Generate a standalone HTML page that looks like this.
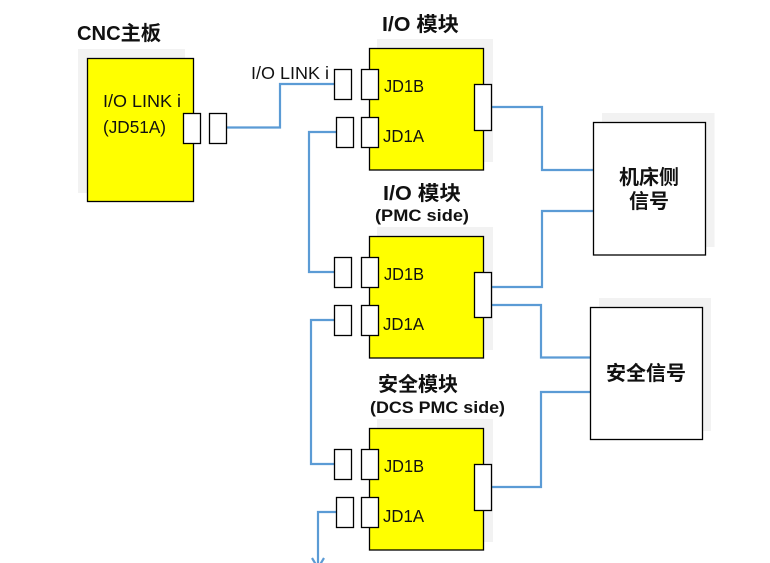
<!DOCTYPE html>
<html><head><meta charset="utf-8"><style>
html,body{margin:0;padding:0;background:#fff;width:770px;height:563px;overflow:hidden}
svg{display:block}
text{font-family:"Liberation Sans","Noto Sans CJK SC",sans-serif;fill:#111}
.b{font-weight:bold;font-size:20px}
.s{font-weight:bold;font-size:17px}
.l{font-size:17.5px}
.y{fill:#ff0;stroke:#000;stroke-width:1.3}
.w{fill:#fff;stroke:#000;stroke-width:1.3}
.g{fill:#f2f2f2}
.c{fill:none;stroke:#5b9bd5;stroke-width:2.2}
</style></head><body>
<svg width="770" height="563" viewBox="0 0 770 563" xmlns="http://www.w3.org/2000/svg">
<rect class="g" x="78" y="49" width="107" height="144"/>
<rect class="g" x="377" y="39" width="116" height="123"/>
<rect class="g" x="377" y="227" width="116" height="123"/>
<rect class="g" x="377" y="419" width="116" height="123"/>
<rect class="g" x="602" y="113" width="112.500" height="134"/>
<rect class="g" x="599" y="298" width="112" height="133"/>

<path class="c" d="M226.500 127.500H280V84H334"/>
<path class="c" d="M336 132H309V272H334"/>
<path class="c" d="M491 107H542V170H593"/>
<path class="c" d="M491 287H542V211H593"/>
<path class="c" d="M491 305H541V357.500H590"/>
<path class="c" d="M491 487H541V392H590"/>
<path class="c" d="M334 320H311V464H334"/>
<path class="c" d="M336 512H318V563"/>
<path class="c" d="M312 558L318 568L324 558"/>

<rect class="y" x="87.500" y="58.500" width="106" height="143"/>
<rect class="y" x="369.500" y="48.500" width="114" height="121.500"/>
<rect class="y" x="369.500" y="236.500" width="114" height="121.500"/>
<rect class="y" x="369.500" y="428.500" width="114" height="121.500"/>
<rect class="w" x="593.500" y="122.500" width="112" height="132.500"/>
<rect class="w" x="590.500" y="307.500" width="112" height="132"/>

<rect class="w" x="183.500" y="113.500" width="17" height="30"/>
<rect class="w" x="209.500" y="113.500" width="17" height="30"/>

<rect class="w" x="334.500" y="69.500" width="17" height="30"/>
<rect class="w" x="361.500" y="69.500" width="17" height="30"/>
<rect class="w" x="336.500" y="117.500" width="17" height="30"/>
<rect class="w" x="361.500" y="117.500" width="17" height="30"/>
<rect class="w" x="474.500" y="84.500" width="17" height="46"/>

<rect class="w" x="334.500" y="257.500" width="17" height="30"/>
<rect class="w" x="361.500" y="257.500" width="17" height="30"/>
<rect class="w" x="334.500" y="305.500" width="17" height="30"/>
<rect class="w" x="361.500" y="305.500" width="17" height="30"/>
<rect class="w" x="474.500" y="272.500" width="17" height="45"/>

<rect class="w" x="334.500" y="449.500" width="17" height="30"/>
<rect class="w" x="361.500" y="449.500" width="17" height="30"/>
<rect class="w" x="336.500" y="497.500" width="17" height="30"/>
<rect class="w" x="361.500" y="497.500" width="17" height="30"/>
<rect class="w" x="474.500" y="464.500" width="17" height="46"/>

<text class="b" x="77" y="40" textLength="84" lengthAdjust="spacingAndGlyphs">CNC主板</text>
<text class="b" x="382" y="31" textLength="77" lengthAdjust="spacingAndGlyphs">I/O 模块</text>
<text class="b" x="383" y="200" textLength="78" lengthAdjust="spacingAndGlyphs">I/O 模块</text>
<text class="s" x="375" y="221" textLength="94" lengthAdjust="spacingAndGlyphs">(PMC side)</text>
<text class="b" x="378" y="391" textLength="80" lengthAdjust="spacingAndGlyphs">安全模块</text>
<text class="s" x="370" y="413" textLength="135" lengthAdjust="spacingAndGlyphs">(DCS PMC side)</text>

<text class="l" x="103" y="107" textLength="78" lengthAdjust="spacingAndGlyphs">I/O LINK i</text>
<text class="l" x="103" y="133" textLength="63" lengthAdjust="spacingAndGlyphs">(JD51A)</text>
<text class="l" x="251" y="79" textLength="78" lengthAdjust="spacingAndGlyphs">I/O LINK i</text>

<text class="l" x="384" y="92" textLength="40" lengthAdjust="spacingAndGlyphs">JD1B</text>
<text class="l" x="383" y="142" textLength="41" lengthAdjust="spacingAndGlyphs">JD1A</text>
<text class="l" x="384" y="280" textLength="40" lengthAdjust="spacingAndGlyphs">JD1B</text>
<text class="l" x="383" y="330" textLength="41" lengthAdjust="spacingAndGlyphs">JD1A</text>
<text class="l" x="384" y="472" textLength="40" lengthAdjust="spacingAndGlyphs">JD1B</text>
<text class="l" x="383" y="522" textLength="41" lengthAdjust="spacingAndGlyphs">JD1A</text>

<text class="b" x="619" y="184" textLength="60" lengthAdjust="spacingAndGlyphs">机床侧</text>
<text class="b" x="629" y="208" textLength="40" lengthAdjust="spacingAndGlyphs">信号</text>
<text class="b" x="606" y="380" textLength="80" lengthAdjust="spacingAndGlyphs">安全信号</text>
</svg>
</body></html>
